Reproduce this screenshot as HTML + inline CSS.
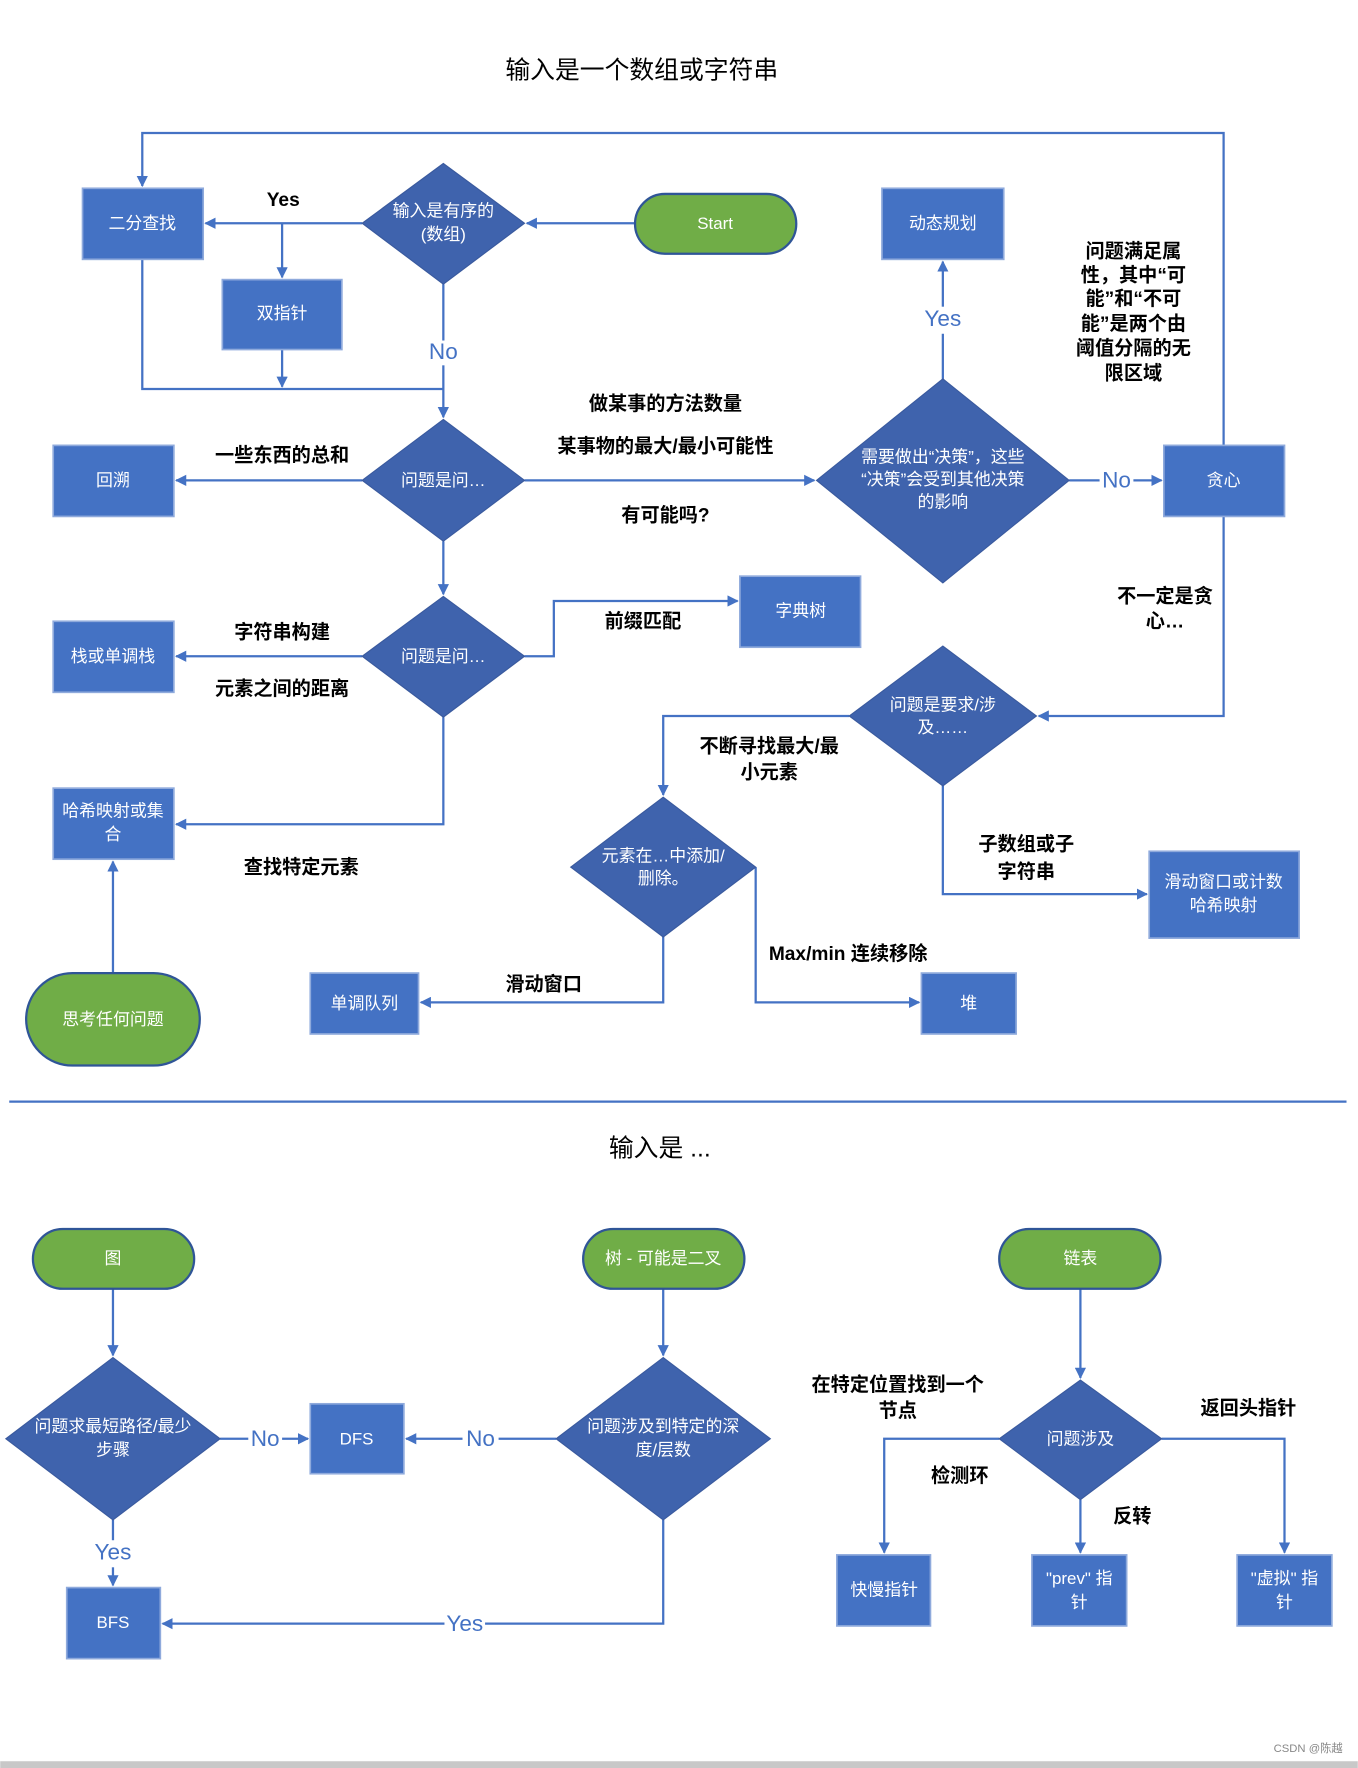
<!DOCTYPE html>
<html><head><meta charset="utf-8"><style>
html,body{margin:0;padding:0;background:#fff;}
svg{display:block;}
text{font-family:"Liberation Sans","Noto Sans CJK SC",sans-serif;}
.bt{fill:#fff;font-size:15px;text-anchor:middle;dominant-baseline:middle;}
.lb{fill:#000;font-size:17px;font-weight:bold;text-anchor:middle;dominant-baseline:middle;}
.bl{fill:#4472C4;font-size:20px;text-anchor:middle;dominant-baseline:middle;}
.box{fill:#4472C4;stroke:#8FAADC;stroke-width:1.5;}
.dia{fill:#3F63AD;stroke:#3A5A9E;stroke-width:1;}
.pill{fill:#70AD47;stroke:#2F5597;stroke-width:2;}
.ln{fill:none;stroke:#4472C4;stroke-width:2;}
</style></head><body>
<svg width="1358" height="1768" viewBox="0 0 1204 1568" xmlns="http://www.w3.org/2000/svg">
<defs><marker id="a" markerWidth="10" markerHeight="10" refX="9" refY="5" orient="auto" markerUnits="userSpaceOnUse"><path d="M0,0 L10,5 L0,10 z" fill="#4472C4"/></marker></defs>
<rect x="0" y="1562" width="1204" height="6" fill="#c8c8c8"/>
<text x="1160" y="1554" font-size="10" fill="#888" text-anchor="middle">CSDN @陈越</text>

<text x="569" y="64" font-size="22" text-anchor="middle" dominant-baseline="middle" fill="#000">输入是一个数组或字符串</text>
<text x="585" y="1020" font-size="22" text-anchor="middle" dominant-baseline="middle" fill="#000">输入是 ...</text>
<line x1="8" y1="977" x2="1194" y2="977" stroke="#4472C4" stroke-width="2"/>

<!-- connectors top -->
<g class="ln">
<path d="M563,198 H467" marker-end="url(#a)"/>
<path d="M321,198 H182" marker-end="url(#a)"/>
<path d="M250,198 V246" marker-end="url(#a)"/>
<path d="M250,310 V343" marker-end="url(#a)"/>
<path d="M126,230 V345 H393"/>
<path d="M393,252 V370" marker-end="url(#a)"/>
<path d="M1085,395 V118 H126 V165" marker-end="url(#a)"/>
<path d="M321,426 H156" marker-end="url(#a)"/>
<path d="M465,426 H722" marker-end="url(#a)"/>
<path d="M836,336 V232" marker-end="url(#a)"/>
<path d="M948,426 H1030" marker-end="url(#a)"/>
<path d="M393,480 V527" marker-end="url(#a)"/>
<path d="M321,582 H156" marker-end="url(#a)"/>
<path d="M465,582 H491 V533 H654" marker-end="url(#a)"/>
<path d="M393,636 V731 H156" marker-end="url(#a)"/>
<path d="M100,863 V764" marker-end="url(#a)"/>
<path d="M1085,458 V635 H921" marker-end="url(#a)"/>
<path d="M753,635 H588 V705" marker-end="url(#a)"/>
<path d="M836,697 V793 H1017" marker-end="url(#a)"/>
<path d="M588,831 V889 H373" marker-end="url(#a)"/>
<path d="M670,769 V889 H815" marker-end="url(#a)"/>
<!-- bottom -->
<path d="M100,1143 V1202" marker-end="url(#a)"/>
<path d="M195,1276 H273" marker-end="url(#a)"/>
<path d="M100,1348 V1406" marker-end="url(#a)"/>
<path d="M588,1143 V1202" marker-end="url(#a)"/>
<path d="M493,1276 H360" marker-end="url(#a)"/>
<path d="M588,1348 V1440 H144" marker-end="url(#a)"/>
<path d="M958,1143 V1222" marker-end="url(#a)"/>
<path d="M886,1276 H784 V1377" marker-end="url(#a)"/>
<path d="M958,1330 V1377" marker-end="url(#a)"/>
<path d="M1030,1276 H1139 V1377" marker-end="url(#a)"/>
</g>

<!-- shapes top -->
<rect class="box" x="73" y="167" width="107" height="63"/><text class="bt" x="126" y="199">二分查找</text>
<rect class="box" x="197" y="248" width="106" height="62"/><text class="bt" x="250" y="279">双指针</text>
<polygon class="dia" points="393,145 465,198 393,252 321,198"/>
<text class="bt" x="393" y="188" font-size="14">输入是有序的</text><text class="bt" x="393" y="209" font-size="14">(数组)</text>
<rect class="pill" x="563" y="172" width="143" height="53" rx="26.5"/><text class="bt" x="634" y="199">Start</text>
<rect class="box" x="782" y="167" width="108" height="63"/><text class="bt" x="836" y="199">动态规划</text>
<polygon class="dia" points="393,372 465,426 393,480 321,426"/><text class="bt" x="393" y="427" font-size="14">问题是问…</text>
<rect class="box" x="47" y="395" width="107" height="63"/><text class="bt" x="100" y="427">回溯</text>
<polygon class="dia" points="836,336 948,426 836,517 724,426"/>
<text class="bt" x="836" y="406" font-size="14">需要做出“决策”，这些</text>
<text class="bt" x="836" y="426" font-size="14">“决策”会受到其他决策</text>
<text class="bt" x="836" y="446" font-size="14">的影响</text>
<rect class="box" x="1032" y="395" width="107" height="63"/><text class="bt" x="1085" y="427">贪心</text>
<polygon class="dia" points="393,529 465,582 393,636 321,582"/><text class="bt" x="393" y="583" font-size="14">问题是问…</text>
<rect class="box" x="47" y="551" width="107" height="63"/><text class="bt" x="100" y="583">栈或单调栈</text>
<rect class="box" x="656" y="511" width="107" height="63"/><text class="bt" x="710" y="543">字典树</text>
<rect class="box" x="47" y="699" width="107" height="63"/><text class="bt" x="100" y="720">哈希映射或集</text><text class="bt" x="100" y="741">合</text>
<rect class="pill" x="23" y="863" width="154" height="82" rx="41"/><text class="bt" x="100" y="905">思考任何问题</text>
<polygon class="dia" points="836,573 919,635 836,697 753,635"/>
<text class="bt" x="836" y="626" font-size="14">问题是要求/涉</text><text class="bt" x="836" y="646" font-size="14">及……</text>
<polygon class="dia" points="588,707 670,769 588,831 506,769"/>
<text class="bt" x="588" y="760" font-size="14">元素在…中添加/</text><text class="bt" x="588" y="780" font-size="14">删除。</text>
<rect class="box" x="1019" y="755" width="133" height="77"/><text class="bt" x="1085" y="783">滑动窗口或计数</text><text class="bt" x="1085" y="804">哈希映射</text>
<rect class="box" x="275" y="863" width="96" height="54"/><text class="bt" x="323" y="891">单调队列</text>
<rect class="box" x="817" y="863" width="84" height="54"/><text class="bt" x="859" y="891">堆</text>

<!-- labels top -->
<text class="lb" x="251" y="178" font-size="20">Yes</text>
<rect x="378" y="302" width="32" height="22" fill="#fff"/><text class="bl" x="393" y="313">No</text>
<text class="lb" x="250" y="405">一些东西的总和</text>
<text class="lb" x="590" y="359">做某事的方法数量</text>
<text class="lb" x="590" y="397">某事物的最大/最小可能性</text>
<text class="lb" x="590" y="458">有可能吗?</text>
<rect x="816" y="272" width="40" height="24" fill="#fff"/><text class="bl" x="836" y="284">Yes</text>
<rect x="975" y="416" width="30" height="22" fill="#fff"/><text class="bl" x="990" y="427">No</text>
<text class="lb" x="1005" y="224">问题满足属</text>
<text class="lb" x="1005" y="245">性，其中“可</text>
<text class="lb" x="1005" y="266">能”和“不可</text>
<text class="lb" x="1005" y="288">能”是两个由</text>
<text class="lb" x="1005" y="310">阈值分隔的无</text>
<text class="lb" x="1005" y="332">限区域</text>
<text class="lb" x="250" y="562">字符串构建</text>
<text class="lb" x="250" y="612">元素之间的距离</text>
<text class="lb" x="570" y="552">前缀匹配</text>
<text class="lb" x="267" y="770">查找特定元素</text>
<text class="lb" x="1033" y="530">不一定是贪</text>
<text class="lb" x="1033" y="552">心…</text>
<text class="lb" x="682" y="663">不断寻找最大/最</text>
<text class="lb" x="682" y="686">小元素</text>
<text class="lb" x="910" y="750">子数组或子</text>
<text class="lb" x="910" y="774">字符串</text>
<text class="lb" x="482" y="874">滑动窗口</text>
<text class="lb" x="752" y="847" font-weight="normal">Max/min 连续移除</text>

<!-- bottom shapes -->
<rect class="pill" x="29" y="1090" width="143" height="53" rx="26.5"/><text class="bt" x="100" y="1117" font-size="17">图</text>
<rect class="pill" x="517" y="1090" width="143" height="53" rx="26.5"/><text class="bt" x="588" y="1117" font-size="17">树 - 可能是二叉</text>
<rect class="pill" x="886" y="1090" width="143" height="53" rx="26.5"/><text class="bt" x="958" y="1117" font-size="17">链表</text>
<polygon class="dia" points="100,1204 195,1276 100,1348 5,1276"/>
<text class="bt" x="100" y="1266" font-size="14">问题求最短路径/最少</text><text class="bt" x="100" y="1287" font-size="14">步骤</text>
<rect class="box" x="275" y="1245" width="83" height="62"/><text class="bt" x="316" y="1277">DFS</text>
<polygon class="dia" points="588,1204 683,1276 588,1348 493,1276"/>
<text class="bt" x="588" y="1266" font-size="14">问题涉及到特定的深</text><text class="bt" x="588" y="1287" font-size="14">度/层数</text>
<rect class="box" x="59" y="1408" width="83" height="63"/><text class="bt" x="100" y="1440">BFS</text>
<polygon class="dia" points="958,1224 1030,1276 958,1330 886,1276"/><text class="bt" x="958" y="1277" font-size="14">问题涉及</text>
<rect class="box" x="742" y="1379" width="83" height="63"/><text class="bt" x="784" y="1411">快慢指针</text>
<rect class="box" x="915" y="1379" width="84" height="63"/><text class="bt" x="957" y="1401">"prev" 指</text><text class="bt" x="957" y="1422">针</text>
<rect class="box" x="1097" y="1379" width="84" height="63"/><text class="bt" x="1139" y="1401">"虚拟" 指</text><text class="bt" x="1139" y="1422">针</text>

<!-- bottom labels -->
<rect x="220" y="1265" width="30" height="22" fill="#fff"/><text class="bl" x="235" y="1277">No</text>
<rect x="410" y="1265" width="32" height="22" fill="#fff"/><text class="bl" x="426" y="1277">No</text>
<rect x="82" y="1366" width="36" height="24" fill="#fff"/><text class="bl" x="100" y="1378">Yes</text>
<rect x="394" y="1429" width="36" height="24" fill="#fff"/><text class="bl" x="412" y="1441">Yes</text>
<text class="lb" x="796" y="1229">在特定位置找到一个</text>
<text class="lb" x="796" y="1252">节点</text>
<text class="lb" x="851" y="1310">检测环</text>
<text class="lb" x="1004" y="1346">反转</text>
<text class="lb" x="1107" y="1250">返回头指针</text>
</svg>
</body></html>
